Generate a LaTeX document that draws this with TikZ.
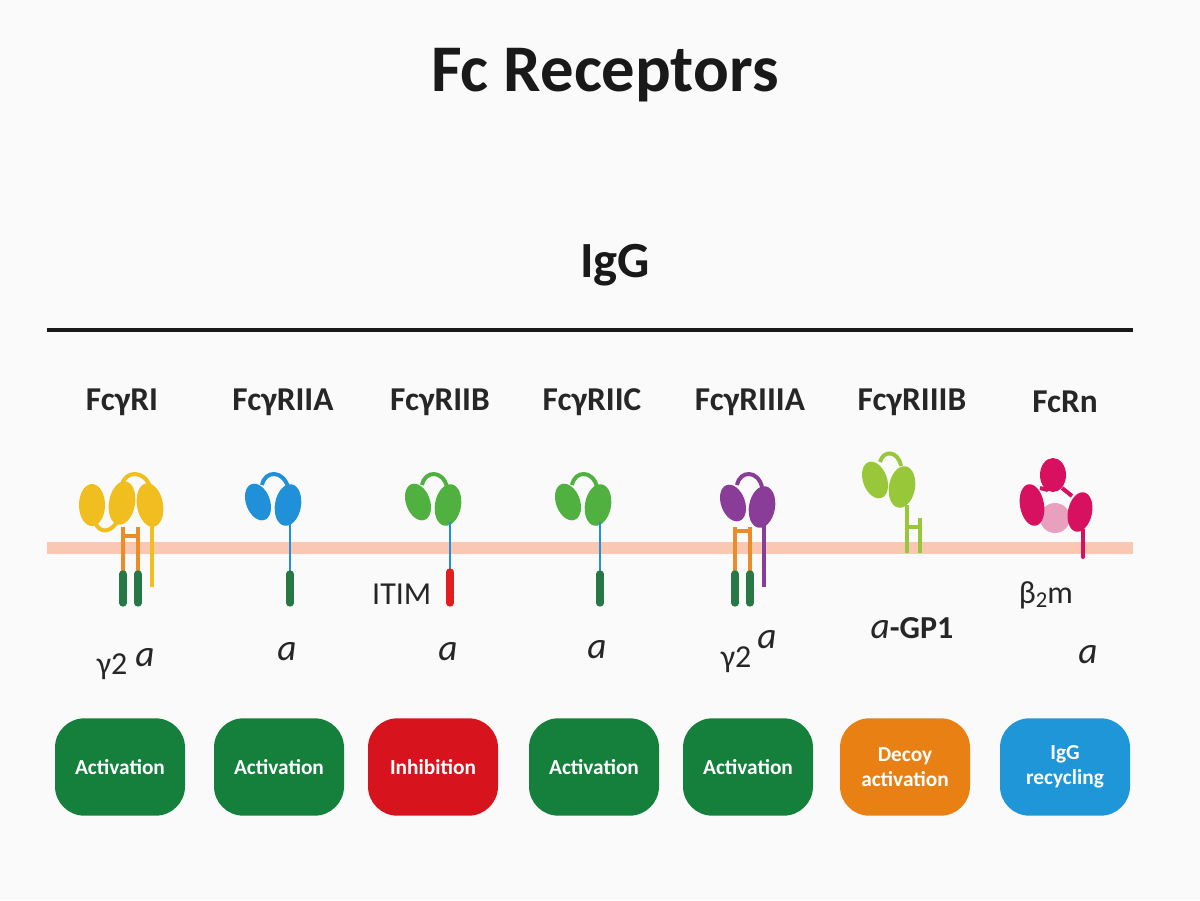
\documentclass[tikz,border=0pt]{standalone}
\usepackage{fontspec}
\setmainfont{Carlito}
\begin{document}
\begin{tikzpicture}[x=0.75pt,y=-0.75pt,
  lbl/.style={font=\fontsize{25}{30}\selectfont\bfseries,text=black!85},
  pill/.style={rounded corners=22pt,minimum width=97.5pt,minimum height=73pt,text=white,align=center,font=\fontsize{16}{19}\selectfont\bfseries,inner sep=0pt},
  it/.style={font=\fontsize{28}{28}\selectfont\itshape,text=black!85},
  sm/.style={font=\fontsize{24}{28}\selectfont,text=black!85}]
\definecolor{bg}{RGB}{250,250,250}
\definecolor{memb}{RGB}{250,200,178}
\definecolor{yel}{RGB}{240,190,30}
\definecolor{orn}{RGB}{235,140,40}
\definecolor{dgr}{RGB}{40,120,70}
\definecolor{blu}{RGB}{32,144,216}
\definecolor{grn}{RGB}{80,176,64}
\definecolor{red}{RGB}{224,30,30}
\definecolor{pur}{RGB}{138,61,152}
\definecolor{lim}{RGB}{152,200,58}
\definecolor{pnk}{RGB}{216,16,96}
\definecolor{lpk}{RGB}{232,160,190}
\definecolor{pgreen}{RGB}{20,128,60}
\definecolor{pred}{RGB}{215,20,30}
\definecolor{porange}{RGB}{232,128,20}
\definecolor{pblue}{RGB}{30,150,215}
\useasboundingbox (0,0) rectangle (1200,900);
\fill[bg] (0,0) rectangle (1200,900);
\node[font=\fontsize{50}{60}\selectfont\bfseries,text=black!90] (title) at (605,75) {Fc Receptors};
\node[font=\fontsize{38}{44}\selectfont\bfseries,text=black!90] (igg) at (615,265) {IgG};
\draw[line width=3pt,black!90] (47,330) -- (1133,330);
\fill[memb] (47,542) rectangle (1133,554);
% names
\foreach \x/\t in {122/FcγRI,283/FcγRIIA,440/FcγRIIB,592/FcγRIIC,750/FcγRIIIA,912/FcγRIIIB,1065/FcRn}
  \node[lbl] at (\x,402) {\t};
\tikzset{tail/.style={line width=5.5pt,line cap=round}}
% FcgRI
\draw[yel,line width=3pt] (95,522) .. controls (100,535) and (112,532) .. (118,520);
\draw[yel,line width=3pt] (122,485) .. controls (125,470) and (145,470) .. (150,487);
\fill[yel] (92,505) ellipse (13 and 21);
\fill[yel,rotate around={-10:(122,503)}] (122,503) ellipse (13 and 22);
\fill[yel,rotate around={10:(150,505)}] (150,505) ellipse (13 and 22);
\draw[yel,line width=2.5pt] (152,523) -- (152,587);
\draw[orn,line width=2.5pt] (123,527) -- (123,572) (138,527) -- (138,572) (123,536) -- (138,536);
\draw[dgr,tail] (123,574) -- (123,603) (138,574) -- (138,603);
\node[sm] at (112,667) {γ2}; \node[it] at (145,658) {a};
% FcgRIIA
\draw[blu,line width=3pt] (262,485) .. controls (265,470) and (283,470) .. (288,487);
\fill[blu,rotate around={20:(258,502)}] (258,502) ellipse (12 and 19);
\fill[blu,rotate around={-10:(288,505)}] (288,505) ellipse (13 and 21);
\draw[blu,line width=2.2pt] (290,522) -- (290,572);
\draw[dgr,tail] (290,574) -- (290,603);
\node[it] at (287,652) {a};
% FcgRIIB
\draw[grn,line width=3pt] (422,485) .. controls (425,470) and (443,470) .. (447,487);
\fill[grn,rotate around={20:(418,502)}] (418,502) ellipse (12 and 19);
\fill[grn,rotate around={-10:(448,505)}] (448,505) ellipse (13 and 21);
\draw[blu,line width=2.2pt] (450,522) -- (450,570);
\draw[red,tail] (450,572) -- (450,603);
\node[sm,anchor=east] at (436,594) {ITIM};
\node[it] at (448,652) {a};
% FcgRIIC
\draw[grn,line width=3pt] (572,485) .. controls (575,470) and (593,470) .. (597,487);
\fill[grn,rotate around={20:(568,502)}] (568,502) ellipse (12 and 19);
\fill[grn,rotate around={-10:(598,505)}] (598,505) ellipse (13 and 21);
\draw[blu,line width=2.2pt] (600,522) -- (600,572);
\draw[dgr,tail] (600,574) -- (600,603);
\node[it] at (597,650) {a};
% FcgRIIIA
\draw[pur,line width=3pt] (737,485) .. controls (740,470) and (758,470) .. (762,487);
\fill[pur,rotate around={20:(733,503)}] (733,503) ellipse (12 and 19);
\fill[pur,rotate around={-10:(762,507)}] (762,507) ellipse (13 and 21);
\draw[pur,line width=2.5pt] (764,524) -- (764,587);
\draw[orn,line width=2.5pt] (735,527) -- (735,572) (750,527) -- (750,572) (735,531) -- (750,531);
\draw[dgr,tail] (735,574) -- (735,603) (750,574) -- (750,603);
\node[sm] at (736,660) {γ2}; \node[it] at (767,640) {a};
% FcgRIIIB
\draw[lim,line width=3pt] (880,462) .. controls (883,450) and (898,450) .. (901,466);
\fill[lim,rotate around={20:(875,480)}] (875,480) ellipse (12 and 19);
\fill[lim,rotate around={-10:(902,487)}] (902,487) ellipse (13 and 21);
\draw[lim,line width=2.5pt] (907,505) -- (907,553) (920,518) -- (920,553) (907,527) -- (920,527);
\node[font=\fontsize{24}{28}\selectfont\bfseries,text=black!85] at (912,628) {{\mdseries\fontsize{28}{28}\selectfont\itshape a}-GP1};
% FcRn
\draw[pnk,line width=3pt] (1040,488) -- (1048,490) (1062,488) -- (1072,496);
\fill[lpk] (1055,518) circle (15);
\fill[pnk,rotate around={10:(1032,505)}] (1032,505) ellipse (12 and 21);
\fill[pnk] (1053,475) ellipse (13 and 17);
\fill[pnk,rotate around={-12:(1080,512)}] (1080,512) ellipse (12 and 20);
\draw[pnk,line width=3pt,line cap=round] (1083,530) -- (1083,557);
\node[sm] at (1046,595) {β\raisebox{-0.3ex}{\fontsize{17}{20}\selectfont 2}m};
\node[it] at (1088,655) {a};
% pills
\node[pill,fill=pgreen] (p1) at (120,767) {Activation};
\node[pill,fill=pgreen] (p2) at (279,767) {Activation};
\node[pill,fill=pred] (p3) at (433,767) {Inhibition};
\node[pill,fill=pgreen] (p4) at (594,767) {Activation};
\node[pill,fill=pgreen] (p5) at (748,767) {Activation};
\node[pill,fill=porange] (p6) at (905,767) {Decoy\\activation};
\node[pill,fill=pblue] (p7) at (1065,767) {IgG\\recycling};
\end{tikzpicture}
\end{document}
